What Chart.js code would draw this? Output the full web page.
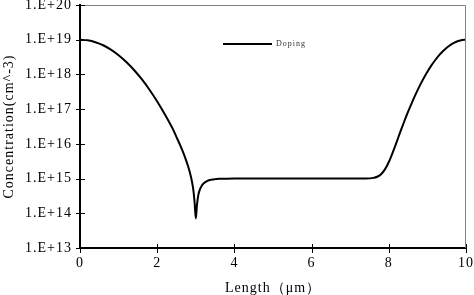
<!DOCTYPE html>
<html><head><meta charset="utf-8">
<script src="https://cdn.jsdelivr.net/npm/chart.js@4/dist/chart.umd.min.js"></script>
<style>html,body{margin:0;padding:0;background:#fff}#wrap{width:474px;height:295px}</style>
</head><body><div id="wrap"><canvas id="c" width="474" height="295"></canvas></div>
<script>
const seriesLabel = 'Doping';
const lengthUm = [0,0.2,0.4,0.6,0.8,1.0,1.2,1.4,1.6,1.8,2.0,2.2,2.4,2.5,2.6,2.7,2.8,2.85,2.9,2.94,2.97,3.0,3.03,3.06,3.1,3.15,3.2,3.3,3.4,3.5,3.6,3.8,4.0,5.0,6.0,7.0,7.4,7.6,7.7,7.8,7.9,8.0,8.1,8.2,8.3,8.4,8.5,8.6,8.7,8.8,8.9,9.0,9.1,9.2,9.3,9.4,9.5,9.6,9.7,9.8,9.9,10];
const dopingValues = [1.0e19,9.60e18,8.49e18,6.92e18,5.19e18,3.59e18,2.29e18,1.345e18,7.28e17,3.63e17,1.667e17,7.06e16,2.75e16,1.57e16,8.9e15,4.75e15,2.27e15,1.45e15,8.26e14,4.38e14,1.99e14,7.1e13,1.71e14,3.12e14,4.65e14,6.12e14,7.2e14,8.56e14,9.27e14,9.64e14,9.83e14,9.96e14,1.0e15,1.0e15,1.0e15,1.0e15,1.006e15,1.047e15,1.13e15,1.34e15,1.84e15,3.0e15,5.6e15,1.11e16,2.24e16,4.41e16,8.44e16,1.55e17,2.74e17,4.67e17,7.62e17,1.19e18,1.79e18,2.56e18,3.53e18,4.65e18,5.88e18,7.12e18,8.26e18,9.18e18,9.79e18,1.0e19];
const yTickLabels = ['1.E+13','1.E+14','1.E+15','1.E+16','1.E+17','1.E+18','1.E+19','1.E+20'];
const xTickLabels = ['0','2','4','6','8','10'];

const tickFont = {family:'Liberation Serif', size:14};

const spacingPlugin = {
  id:'spacing',
  beforeInit(chart){ chart.ctx.letterSpacing = '1px'; },
  beforeDraw(chart){ chart.ctx.letterSpacing = '1px'; }
};

const framePlugin = {
  id:'frame',
  afterDraw(chart){
    const {ctx, chartArea:a, scales:{x,y}} = chart;
    ctx.save();
    ctx.strokeStyle = '#808080'; ctx.lineWidth = 1;
    ctx.beginPath();
    ctx.moveTo(a.left, a.top+0.5); ctx.lineTo(a.right-0.5, a.top+0.5); ctx.lineTo(a.right-0.5, a.bottom);
    ctx.stroke();
    ctx.strokeStyle = '#000'; ctx.lineWidth = 1;
    ctx.beginPath();
    y.ticks.forEach(t => { const py = Math.round(y.getPixelForValue(t.value))+0.5; ctx.moveTo(a.left-4, py); ctx.lineTo(a.left+5, py); });
    x.ticks.forEach(t => { const px = Math.round(x.getPixelForValue(t.value))+0.5; ctx.moveTo(px, a.bottom-4); ctx.lineTo(px, a.bottom+5); });
    ctx.stroke();
    const lx = a.left + 143, ly = a.top + 39;
    ctx.strokeStyle = '#000'; ctx.lineWidth = 2;
    ctx.beginPath(); ctx.moveTo(lx, ly); ctx.lineTo(lx+49, ly); ctx.stroke();
    ctx.fillStyle = '#333'; ctx.font = '8px "Liberation Serif"'; ctx.textBaseline = 'middle'; ctx.textAlign='left';
    ctx.fillText(chart.data.datasets[0].label, lx+53, ly);
    ctx.restore();
  }
};

new Chart(document.getElementById('c'), {
  type:'line',
  data:{ datasets:[{ label:seriesLabel, data: lengthUm.map((v,i)=>({x:v, y:dopingValues[i]})),
    borderColor:'#000', borderWidth:2, pointRadius:0, cubicInterpolationMode:'monotone', fill:false }]},
  options:{
    responsive:false, animation:false, devicePixelRatio:1,
    layout:{padding:{top:5, right:8, left:0, bottom:0}},
    plugins:{legend:{display:false}, tooltip:{enabled:false}},
    scales:{
      x:{ type:'linear', min:0, max:10,
        afterBuildTicks: s => { s.ticks = xTickLabels.map(l => ({value:Number(l)})); },
        ticks:{ font:tickFont, color:'#000', padding:7, maxRotation:0, callback:(v)=>String(v) },
        grid:{ drawOnChartArea:false, drawTicks:false },
        border:{ color:'#000', width:2 },
        title:{ display:true, text:'Length（μm）', font:{family:'Liberation Serif', size:14}, color:'#000', padding:{top:4,bottom:-2} },
        afterFit: s => { s.height = 47; s.paddingLeft = 0; s.paddingRight = 0; }
      },
      y:{ type:'logarithmic', min:1e13, max:1e20,
        afterBuildTicks: s => { s.ticks = yTickLabels.map((l,i)=>({value: Math.pow(10, 13+i)})); },
        ticks:{ font:tickFont, color:'#000', padding:8, callback:(v)=>{ const i = Math.round(Math.log10(v))-13; return yTickLabels[i]; } },
        grid:{ drawOnChartArea:false, drawTicks:false },
        border:{ color:'#000', width:2 },
        title:{ display:true, text:'Concentration(cm^-3)', font:{family:'Liberation Serif', size:14}, color:'#000', padding:{top:1,bottom:0} },
        afterFit: s => { s.width = 80; s.paddingTop = 0; s.paddingBottom = 0; }
      }
    }
  },
  plugins:[spacingPlugin, framePlugin]
});
</script></body></html>
